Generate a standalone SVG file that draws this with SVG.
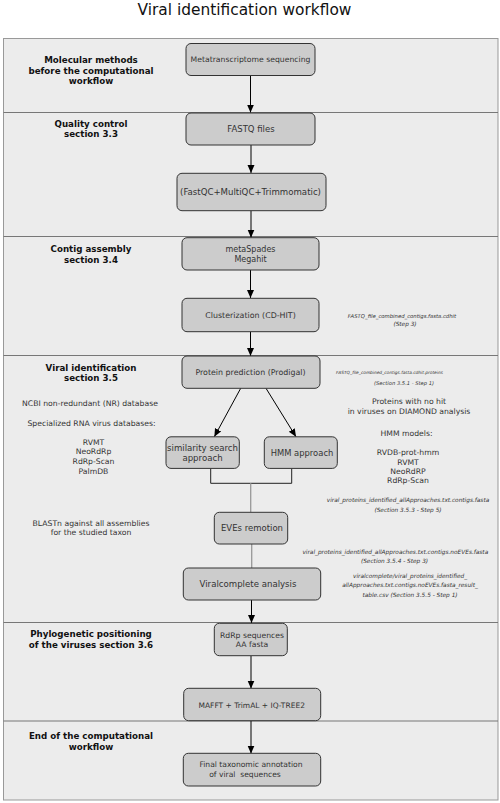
<svg xmlns="http://www.w3.org/2000/svg" width="500" height="803" viewBox="0 0 500 803">
<style>
.t{font-family:"DejaVu Sans",sans-serif;fill:#333;text-anchor:middle}
.n{font-size:7.7px}
.b{font-family:"DejaVu Sans",sans-serif;font-weight:bold;font-size:8.7px;fill:#111;text-anchor:middle}
.s{font-family:"DejaVu Sans",sans-serif;font-style:italic;fill:#333;text-anchor:middle}
.box{fill:#cccccc;stroke:#333;stroke-width:1}
.div{stroke:#777;stroke-width:1}
.arr{stroke:#000;stroke-width:1;fill:none;marker-end:url(#ah)}
.ln{stroke:#222;stroke-width:1;fill:none}
.gl{stroke:#999;stroke-width:1.3;fill:none}
</style>
<defs>
<marker id="ah" markerUnits="userSpaceOnUse" markerWidth="8" markerHeight="8" refX="8" refY="3.5" orient="auto">
<path d="M0,0 L8,3.5 L0,7 z" fill="#000"/>
</marker>
</defs>
<rect width="500" height="803" fill="#fff"/>
<text x="244.5" y="14.5" font-family="DejaVu Sans, sans-serif" font-size="15.4" fill="#111" text-anchor="middle">Viral identification workflow</text>
<g id="lanes">
<rect x="3.5" y="38.5" width="494.5" height="761.5" fill="#ececec" stroke="#999" stroke-width="1"/>
<line class="div" x1="3.5" y1="112.5" x2="498" y2="112.5"/>
<line class="div" x1="3.5" y1="236.5" x2="498" y2="236.5"/>
<line class="div" x1="3.5" y1="355.5" x2="498" y2="355.5"/>
<line class="div" x1="3.5" y1="622.5" x2="498" y2="622.5"/>
<line class="div" x1="3.5" y1="721" x2="498" y2="721"/>
</g>
<g id="lane-labels">
<text class="b" x="91" y="63">Molecular methods</text>
<text class="b" x="91" y="73.6">before the computational</text>
<text class="b" x="91" y="84.2">workflow</text>
<text class="b" x="91" y="126.7">Quality control</text>
<text class="b" x="91" y="137.3">section 3.3</text>
<text class="b" x="91" y="252">Contig assembly</text>
<text class="b" x="91" y="263">section 3.4</text>
<text class="b" x="91" y="370.7">Viral identification</text>
<text class="b" x="91" y="381.3">section 3.5</text>
<text class="b" x="91" y="637.3">Phylogenetic positioning</text>
<text class="b" x="91" y="647.9">of the viruses section 3.6</text>
<text class="b" x="91" y="739">End of the computational</text>
<text class="b" x="91" y="749.6">workflow</text>
</g>
<g id="notes">
<text class="t n" x="90" y="405.5">NCBI non-redundant (NR) database</text>
<text class="t n" x="91.5" y="425.5">Specialized RNA virus databases:</text>
<text class="t n" x="93.5" y="444.5">RVMT</text>
<text class="t n" x="93.5" y="454.3">NeoRdRp</text>
<text class="t n" x="93.5" y="464">RdRp-Scan</text>
<text class="t n" x="93.5" y="473.7">PalmDB</text>
<text class="t n" x="91" y="525.7">BLASTn against all assemblies</text>
<text class="t n" x="91" y="534.5">for the studied taxon</text>
<text class="t n" x="409" y="403.6">Proteins with no hit</text>
<text class="t n" x="409" y="414.3">in viruses on DIAMOND analysis</text>
<text class="t n" x="406.5" y="436">HMM models:</text>
<text class="t n" x="408" y="455">RVDB-prot-hmm</text>
<text class="t n" x="408" y="464.5">RVMT</text>
<text class="t n" x="408" y="473.9">NeoRdRP</text>
<text class="t n" x="408" y="483.3">RdRp-Scan</text>
<text class="s" transform="translate(402,318) scale(0.5)" style="font-size:10.6px">FASTQ_file_combined_contigs.fasta.cdhit</text>
<text class="s" transform="translate(405,326.3) scale(0.5)" style="font-size:11.6px">(Step 3)</text>
<text class="s" transform="translate(389.5,374) scale(0.5)" style="font-size:8.6px">FASTQ_file_combined_contigs.fasta.cdhit.proteins</text>
<text class="s" transform="translate(404,385) scale(0.5)" style="font-size:10.4px">(Section 3.5.1 - Step 1)</text>
<text class="s" transform="translate(408,501.5) scale(0.5)" style="font-size:11.6px">viral_proteins_identified_allApproaches.txt.contigs.fasta</text>
<text class="s" transform="translate(408,511.5) scale(0.5)" style="font-size:11.6px">(Section 3.5.3 - Step 5)</text>
<text class="s" transform="translate(395.3,553.5) scale(0.5)" style="font-size:11.6px">viral_proteins_identified_allApproaches.txt.contigs.noEVEs.fasta</text>
<text class="s" transform="translate(394.5,563.3) scale(0.5)" style="font-size:11.6px">(Section 3.5.4 - Step 3)</text>
<text class="s" transform="translate(410,577.5) scale(0.5)" style="font-size:11.6px">viralcomplete/viral_proteins_identified_</text>
<text class="s" transform="translate(410,587) scale(0.5)" style="font-size:11.6px">allApproaches.txt.contigs.noEVEs.fasta_result_</text>
<text class="s" transform="translate(410,597) scale(0.5)" style="font-size:11.6px">table.csv (Section 3.5.5 - Step 1)</text>
</g>
<g id="connectors">
<line class="arr" x1="250.5" y1="75.5" x2="250.5" y2="112.5"/>
<line class="arr" x1="251" y1="145" x2="251" y2="173"/>
<line class="arr" x1="251" y1="210.5" x2="251" y2="237.5"/>
<line class="arr" x1="250.5" y1="270" x2="250.5" y2="298"/>
<line class="arr" x1="250.5" y1="331.5" x2="250.5" y2="356"/>
<line class="arr" x1="240.7" y1="388.3" x2="214.3" y2="436.8"/>
<line class="arr" x1="266" y1="388.3" x2="296" y2="436.8"/>
<polyline class="ln" points="210.7,468.5 210.7,483.3 291.7,483.3 291.7,468.5"/>
<line class="gl" x1="250.7" y1="483.3" x2="250.7" y2="512.3"/>
<line class="gl" x1="251.7" y1="544" x2="251.7" y2="568"/>
<line class="arr" x1="251.5" y1="600" x2="251.5" y2="623"/>
<line class="arr" x1="251" y1="656" x2="251" y2="688.5"/>
<line class="arr" x1="251" y1="721" x2="251" y2="753.5"/>
</g>
<g id="n-meta">
<rect class="box" x="186" y="43.5" width="129" height="32" rx="5"/>
<text class="t" x="250.5" y="61.8" font-size="7.7">Metatranscriptome sequencing</text>
</g>
<g id="n-fastq">
<rect class="box" x="186" y="113" width="129" height="32" rx="5"/>
<text class="t" x="251" y="132" font-size="8.5">FASTQ files</text>
</g>
<g id="n-qc">
<rect class="box" x="177" y="173.3" width="149" height="37.4" rx="5"/>
<text class="t" x="250.5" y="194.8" font-size="8.6">(FastQC+MultiQC+Trimmomatic)</text>
</g>
<g id="n-assembly">
<rect class="box" x="182" y="237.7" width="137" height="32.3" rx="5"/>
<text class="t" x="250.5" y="251.9" font-size="8">metaSpades</text>
<text class="t" x="250.5" y="261.9" font-size="8">Megahit</text>
</g>
<g id="n-cdhit">
<rect class="box" x="182" y="298.3" width="137" height="33.4" rx="5"/>
<text class="t" x="250.5" y="317.9" font-size="7.9">Clusterization (CD-HIT)</text>
</g>
<g id="n-prodigal">
<rect class="box" x="182" y="356" width="138" height="32.3" rx="5"/>
<text class="t" x="250.5" y="374.9" font-size="7.9">Protein prediction (Prodigal)</text>
</g>
<g id="n-similarity">
<rect class="box" x="166" y="436.8" width="73.3" height="31.6" rx="5"/>
<text class="t" x="202.5" y="450.8" font-size="8.6">similarity search</text>
<text class="t" x="202.5" y="461.4" font-size="8.6">approach</text>
</g>
<g id="n-hmm">
<rect class="box" x="264.3" y="436.8" width="73" height="31.6" rx="5"/>
<text class="t" x="302" y="456" font-size="8.4">HMM approach</text>
</g>
<g id="n-eves">
<rect class="box" x="214.3" y="512.3" width="73.4" height="31.7" rx="5"/>
<text class="t" x="252" y="531.4" font-size="8.5">EVEs remotion</text>
</g>
<g id="n-viralcomplete">
<rect class="box" x="183.3" y="568" width="137.4" height="32" rx="5"/>
<text class="t" x="248" y="586.6" font-size="8.6">Viralcomplete analysis</text>
</g>
<g id="n-rdrp">
<rect class="box" x="214.3" y="623.3" width="73" height="32.4" rx="5"/>
<text class="t" x="252" y="637.8" font-size="7.7">RdRp sequences</text>
<text class="t" x="252" y="646.8" font-size="7.7">AA fasta</text>
</g>
<g id="n-phylo">
<rect class="box" x="183.7" y="688.3" width="137" height="32.4" rx="5"/>
<text class="t" x="251.7" y="707.7" font-size="7.5">MAFFT + TrimAL + IQ-TREE2</text>
</g>
<g id="n-final">
<rect class="box" x="183.3" y="753.3" width="137.4" height="32.7" rx="5"/>
<text class="t" x="251" y="767" font-size="7.6">Final taxonomic annotation</text>
<text class="t" x="245" y="776.7" font-size="7.6" xml:space="preserve">of viral  sequences</text>
</g>
</svg>
